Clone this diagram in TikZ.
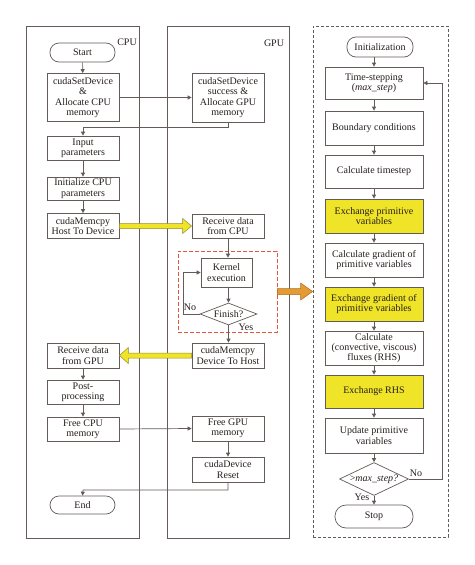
\documentclass[tikz,border=0pt]{standalone}
\usepackage{fontspec}
\setmainfont{Liberation Serif}
\usetikzlibrary{shapes.geometric,arrows.meta,calc}
\definecolor{lc}{RGB}{100,90,88}
\definecolor{tc}{RGB}{38,30,28}
\definecolor{yfill}{RGB}{240,228,40}
\definecolor{yedge}{RGB}{150,140,50}
\definecolor{ofill}{RGB}{228,155,50}
\definecolor{oedge}{RGB}{170,110,40}
\definecolor{rdash}{RGB}{225,85,65}
\begin{document}
\begin{tikzpicture}[x=1pt,y=-1pt,font=\fontsize{10}{10.4}\selectfont,text=tc,
  box/.style={draw=lc,line width=0.7pt,fill=white,align=center,inner sep=1pt,minimum width=72},
  rbox/.style={box,minimum width=98},
  ybox/.style={fill=yfill},
  term/.style={draw=lc,line width=0.7pt,fill=white,rounded corners=9pt,inner sep=1pt},
  dia/.style={diamond,draw=lc,line width=0.7pt,fill=white,inner sep=0pt},
  cont/.style={draw=lc,line width=0.8pt},
  arr/.style={draw=lc,line width=0.7pt,-{Triangle[length=4pt,width=4pt]}},
  ln/.style={draw=lc,line width=0.7pt},
  yarr/.style={fill=yfill,draw=yedge,line width=0.5pt},
  oarr/.style={fill=ofill,draw=oedge,line width=0.5pt}]
\useasboundingbox (0,0) rectangle (474,565);
\fill[white] (0,0) rectangle (474,565);
% containers
\node[cont,minimum width=113,minimum height=512] (cpu) at (82.5,282) {};
\node[cont,minimum width=122,minimum height=512] (gpu) at (228,282) {};
\node[cont,dashed,dash pattern=on 3pt off 2pt,minimum width=135,minimum height=511] (rbx) at (380.5,281.5) {};
\node (cpul) at (127,42) {CPU};
\node (gpul) at (274,43) {GPU};
% CPU column
\node[term,minimum width=65,minimum height=19] (start) at (82.5,52.5) {Start};
\node[box,minimum height=48] (csd) at (83,97.5) {cudaSetDevice\\\&\\Allocate CPU\\memory};
\node[box,minimum height=24] (ip) at (83,148) {Input\\parameters};
\node[box,minimum height=23] (ic) at (83,188.5) {Initialize CPU\\parameters};
\node[box,minimum height=25] (hd) at (83,226) {cudaMemcpy\\Host To Device};
\node[box,minimum height=25] (rg) at (83,355.5) {Receive data\\from GPU};
\node[box,minimum height=24] (pp) at (83,392) {Post-\\processing};
\node[box,minimum height=24] (fc) at (83,429) {Free CPU\\memory};
\node[term,minimum width=65,minimum height=18] (end) at (82.5,505) {End};
% GPU column
\node[box,minimum height=49] (gsd) at (228,97.5) {cudaSetDevice\\success \&\\Allocate GPU\\memory};
\node[box,minimum height=24] (rc) at (228,226) {Receive data\\from CPU};
\node[draw=rdash,dashed,dash pattern=on 4pt off 2pt,line width=0.8pt,minimum width=99,minimum height=81] (rb) at (227.5,291.5) {};
\node[box,minimum width=51,minimum height=29] (ke) at (226.5,272.5) {Kernel\\execution};
\node[dia,minimum width=57,minimum height=22,aspect=2.6] (fin) at (228.5,314) {Finish?};
\node[box,minimum height=25] (dh) at (228,355.5) {cudaMemcpy\\Device To Host};
\node[box,minimum height=25] (fg) at (228,428.5) {Free GPU\\memory};
\node[box,minimum height=25] (cr) at (228,469.5) {cudaDevice\\Reset};
\node (no1) at (190,307) {No};
\node (yes1) at (246,327) {Yes};
% right column
\node[term,minimum width=66,minimum height=20] (init) at (380,47) {Initialization};
\node[rbox,minimum height=32] (ts) at (374,83) {Time-stepping\\(\textit{max\_step})};
\node[rbox,minimum height=34] (bc) at (374,128) {Boundary conditions};
\node[rbox,minimum height=33] (ct) at (374,171.5) {Calculate timestep};
\node[rbox,ybox,minimum height=34] (ep) at (374,216) {Exchange primitive\\variables};
\node[rbox,minimum height=34] (cg) at (374,260) {Calculate gradient of\\primitive variables};
\node[rbox,ybox,minimum height=34] (eg) at (374,304) {Exchange gradient of\\primitive variables};
\node[rbox,minimum height=34] (cf) at (374,348) {Calculate\\(convective, viscous)\\fluxes (RHS)};
\node[rbox,ybox,minimum height=33] (er) at (374,391.5) {Exchange RHS};
\node[rbox,minimum height=35] (up) at (374,435.5) {Update primitive\\variables};
\node[dia,minimum width=69,minimum height=32,aspect=2] (dm) at (374,479) {\textgreater\textit{max\_step?}};
\node[term,minimum width=78,minimum height=23,rounded corners=11pt] (stop) at (374,516.5) {Stop};
\node (no2) at (416,473) {No};
\node (yes2) at (362,497) {Yes};
% CPU/GPU connectors
\coordinate (r1) at (83,127);
\coordinate (r2) at (83,490);
\coordinate (nl) at (183,272.5);
\coordinate (rl) at (442,83);
\draw[arr] (start) -- (csd);
\draw[arr] (csd.east) -- (gsd.west);
\draw[arr] (gsd.south) |- (r1) -- (ip.north);
\draw[arr] (ip) -- (ic);
\draw[arr] (ic) -- (hd);
\draw[arr] (rg) -- (pp);
\draw[arr] (pp) -- (fc);
\draw[arr] (fc.east) -- (fg.west);
\draw[arr] (fg) -- (cr);
\draw[arr] (cr.south) |- (r2) -- (end.north);
\draw[arr] (rc.south) -- (rc.south |- ke.north);
\draw[arr] (ke.south -| fin.north) -- (fin.north);
\draw[arr] (fin.west) -| (nl) -- (ke.west);
\draw[arr] (fin.south) -- (dh.north -| fin.south);
% right connectors
\draw[arr] (init.south -| ts.north) -- (ts.north);
\draw[arr] (ts) -- (bc);
\draw[arr] (bc) -- (ct);
\draw[arr] (ct) -- (ep);
\draw[arr] (ep) -- (cg);
\draw[arr] (cg) -- (eg);
\draw[arr] (eg) -- (cf);
\draw[arr] (cf) -- (er);
\draw[arr] (er) -- (up);
\draw[arr] (up) -- (dm);
\draw[arr] (dm) -- (stop);
\draw[arr] (dm.east) -| (rl) -- (ts.east);
% thick arrows
\draw[yarr] ($(hd.east)+(0,-2.5)$) -- ($(rc.west)+(-9,-2.5)$) -- ($(rc.west)+(-9,-7.5)$) -- (rc.west) -- ($(rc.west)+(-9,7.5)$) -- ($(rc.west)+(-9,2.5)$) -- ($(hd.east)+(0,2.5)$) -- cycle;
\draw[yarr] ($(dh.west)+(0,-2.5)$) -- ($(rg.east)+(9,-2.5)$) -- ($(rg.east)+(9,-8)$) -- (rg.east) -- ($(rg.east)+(9,8)$) -- ($(rg.east)+(9,2.5)$) -- ($(dh.west)+(0,2.5)$) -- cycle;
\coordinate (ot) at (rb.east -| rbx.west);
\draw[oarr] ($(rb.east)+(0,-3)$) -- ($(ot)+(-12,-3)$) -- ($(ot)+(-12,-8.5)$) -- (ot) -- ($(ot)+(-12,8.5)$) -- ($(ot)+(-12,3)$) -- ($(rb.east)+(0,3)$) -- cycle;
\end{tikzpicture}
\end{document}
